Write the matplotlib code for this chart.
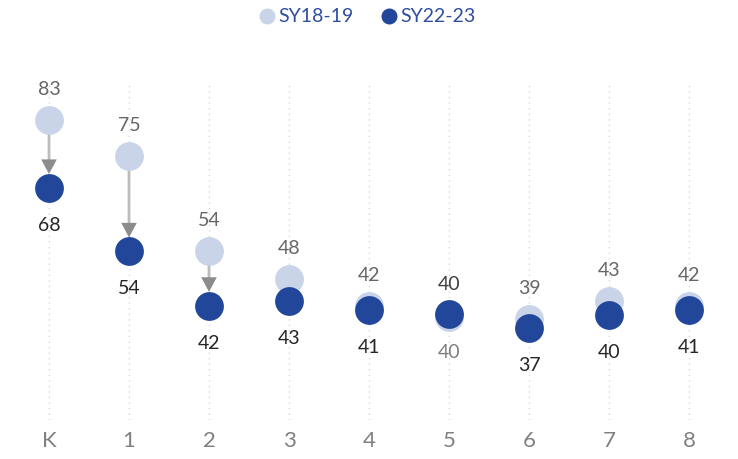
import matplotlib
matplotlib.use("Agg")
import matplotlib.pyplot as plt
from matplotlib.lines import Line2D

plt.rcParams['font.family'] = ['Lato', 'DejaVu Sans']

grades = ["K", "1", "2", "3", "4", "5", "6", "7", "8"]
sy1819 = [83, 75, 54, 48, 42, 39.6, 39, 43, 42]
sy2223 = [68, 54, 42, 43, 41, 40.2, 37, 40, 41]
arrow_grades = [0, 1, 2]

light = "#C9D4E8"
dark = "#22479A"

fig = plt.figure(figsize=(7.38, 4.59), dpi=100)
ax = fig.add_axes([9/738, 39/459, 720/738, 335/459])
ax.set_xlim(-0.5, 8.5)
ax.set_ylim(16.8, 90.7)

x = list(range(len(grades)))
for xi in x:
    ax.axvline(xi, color="#D9D9D9", lw=1, ls=(0, (1, 3)), zorder=0)

ax.scatter(x, sy1819, s=430, color=light, zorder=2, linewidths=0)
ax.scatter(x, sy2223, s=430, color=dark, zorder=3, linewidths=0)

for i in arrow_grades:
    # shaft
    ax.annotate("", xy=(i, sy2223[i]), xytext=(i, sy1819[i]),
                arrowprops=dict(arrowstyle="-", color="#BDBDBD", lw=2,
                                shrinkA=10, shrinkB=18),
                zorder=1)
    # head
    ax.annotate("", xy=(i, sy2223[i]), xytext=(i, sy1819[i]),
                arrowprops=dict(arrowstyle="-|>,head_length=0.75,head_width=0.4",
                                color="#8C8C8C", lw=0.01, shrinkA=10, shrinkB=10,
                                mutation_scale=14),
                zorder=1)

for i in x:
    a, b = sy1819[i], sy2223[i]
    if b > a:
        ax.annotate(f"{round(b)}", (i, b), xytext=(0, 21.5), textcoords="offset points",
                    ha="center", va="center", fontsize=14, color="#404040")
        ax.annotate(f"{round(a)}", (i, a), xytext=(0, -26), textcoords="offset points",
                    ha="center", va="center", fontsize=14, color="#7F7F7F")
    else:
        ax.annotate(f"{round(a)}", (i, a), xytext=(0, 22), textcoords="offset points",
                    ha="center", va="center", fontsize=14, color="#666666")
        ax.annotate(f"{round(b)}", (i, b), xytext=(0, -27), textcoords="offset points",
                    ha="center", va="center", fontsize=14, color="#262626")

ax.set_xticks(x)
ax.set_xticklabels(grades, fontsize=16, color="#808080")
ax.tick_params(axis="x", length=0, pad=8)
ax.set_yticks([])
for s in ax.spines.values():
    s.set_visible(False)

handles = [Line2D([], [], marker="o", ls="", color=light, markersize=10.5),
           Line2D([], [], marker="o", ls="", color=dark, markersize=10.5)]
leg = fig.legend(handles, ["SY18-19", "SY22-23"], loc="upper center",
                 bbox_to_anchor=(0.495, 1.02), ncol=2, frameon=False,
                 fontsize=14, handletextpad=0.0, columnspacing=1.2,
                 handlelength=1.2)
for t in leg.get_texts():
    t.set_color("#2F4E9E")

fig.savefig("out.png", dpi=100)
